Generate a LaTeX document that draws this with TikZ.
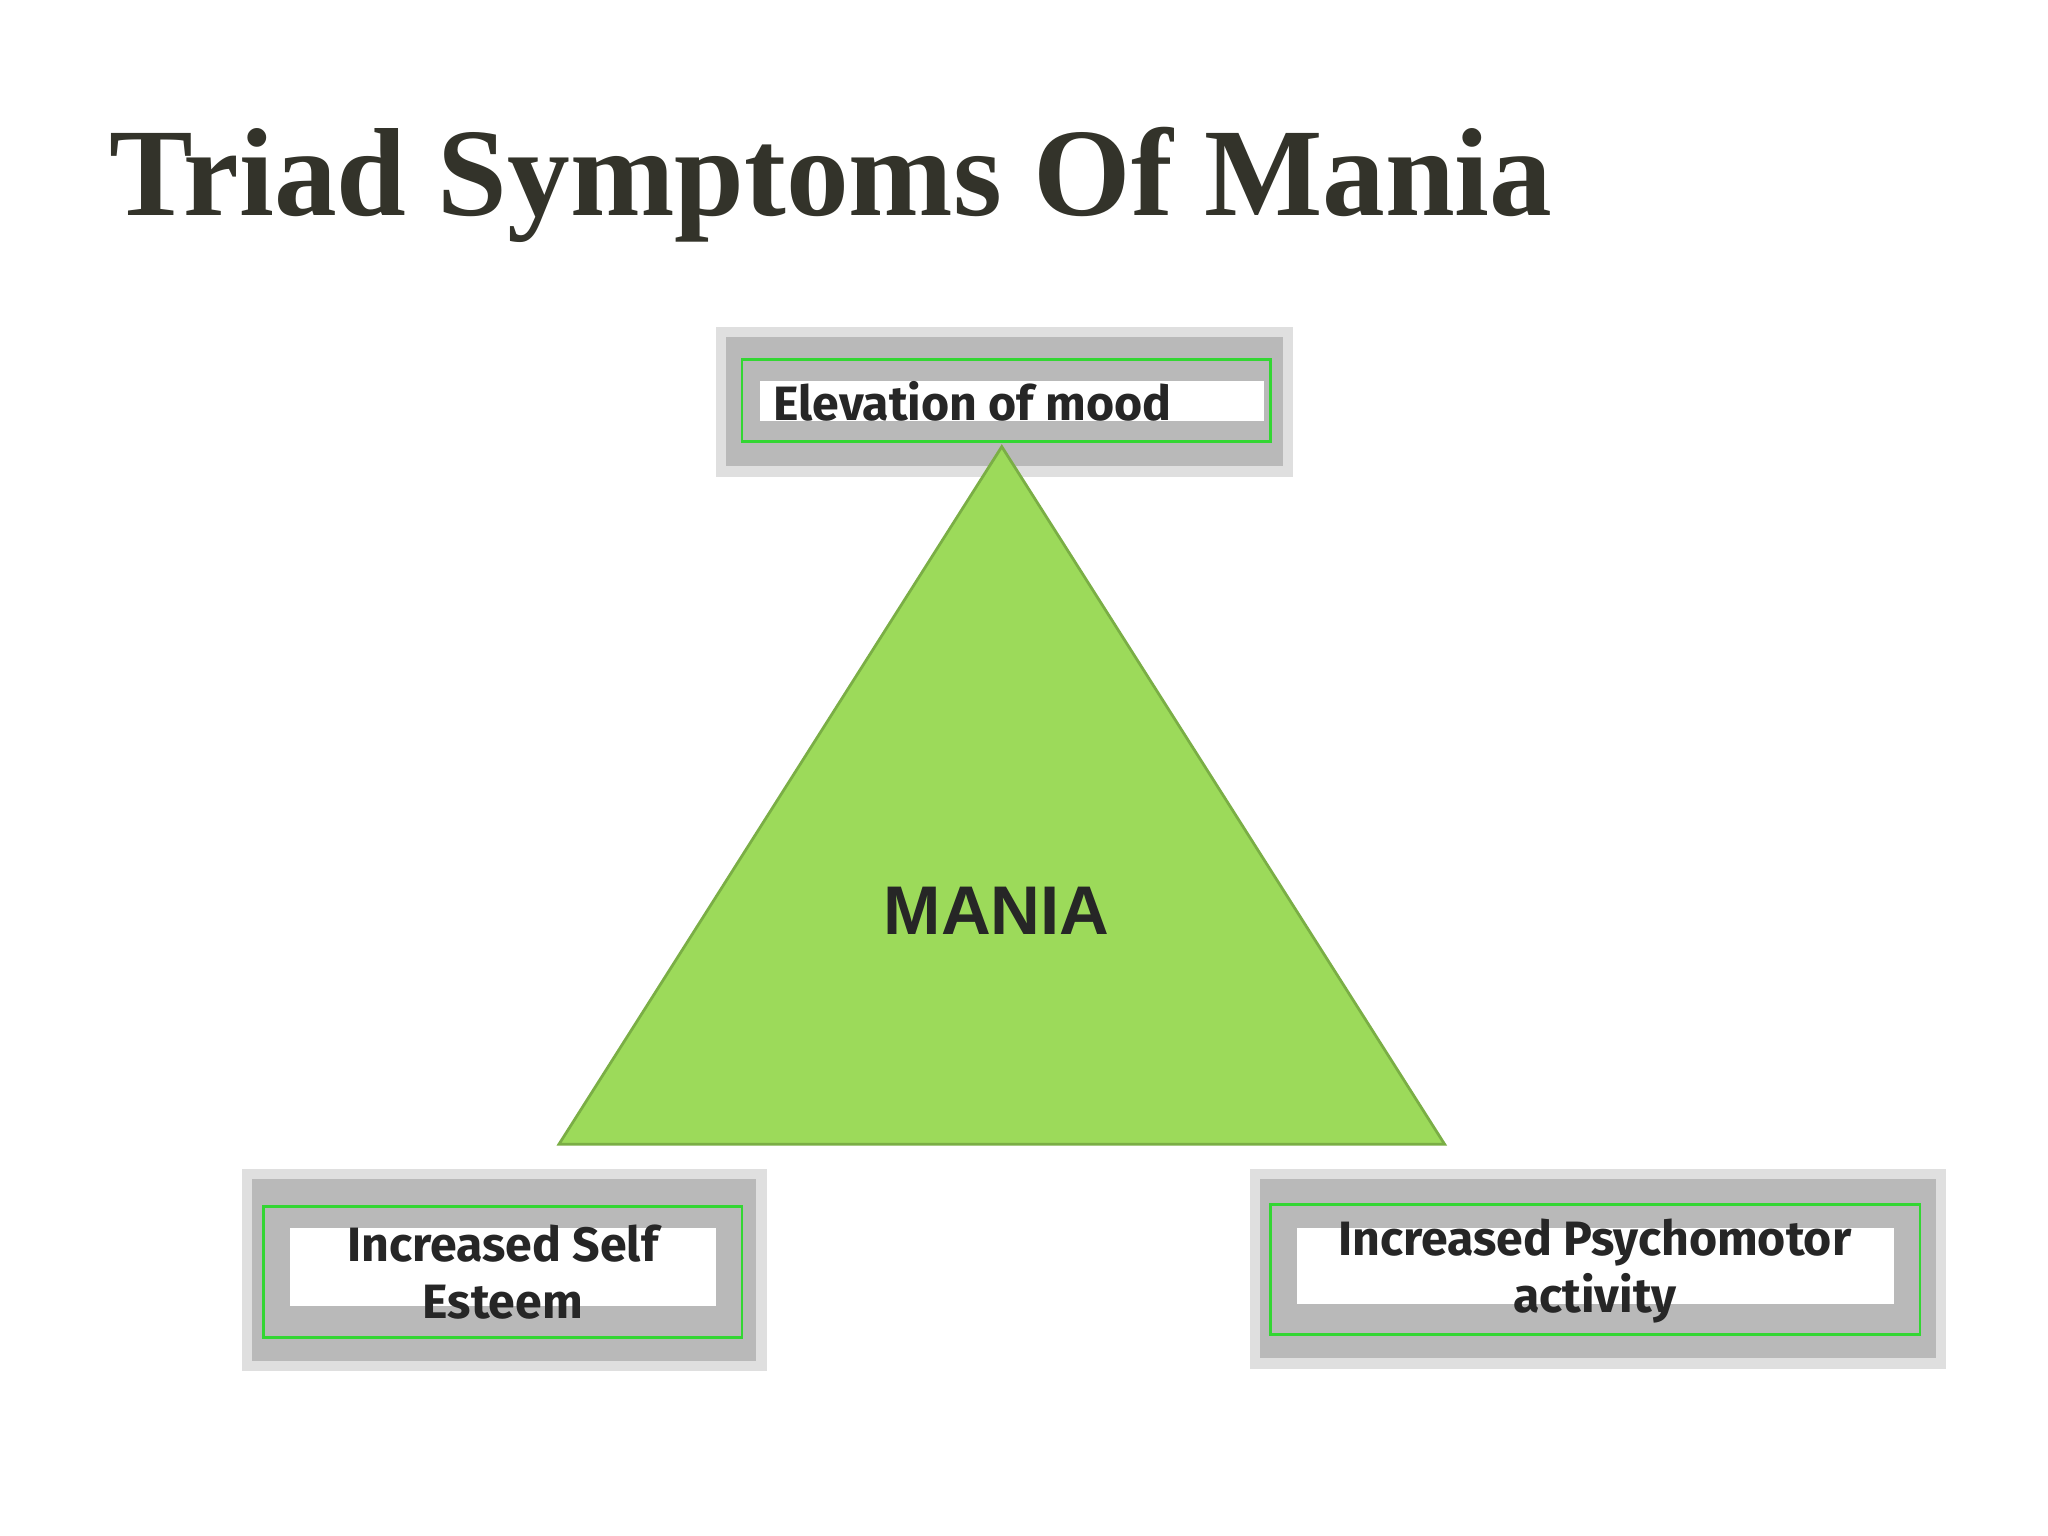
\documentclass[tikz,border=0pt]{standalone}
\usepackage{fontspec}
\setmainfont{Liberation Serif}
\newfontfamily\boxfont{Fira Sans}
\newfontfamily\manfont{Liberation Sans}
\definecolor{titlec}{HTML}{33332A}
\definecolor{trifill}{HTML}{9CDA5A}
\definecolor{triedge}{HTML}{7AAE45}
\definecolor{gbord}{HTML}{33D633}
\begin{document}
\begin{tikzpicture}[x=0.01cm,y=-0.01cm]
\useasboundingbox[fill=white] (0,0) rectangle (1568,1176);
\tikzset{
  framebox/.style={fill=gray!25},
  framemid/.style={fill=gray!55},
  framein/.style={fill=white},
  greenb/.style={draw=gbord,line width=0.6pt},
  lbl/.style={font=\boxfont\bfseries\fontsize{10.5}{12.5}\selectfont,text=black!85,align=center}
}
\node[anchor=base west,inner sep=0,text=titlec,font=\bfseries\fontsize{27.3}{31}\selectfont] (title) at (83,165) {Triad Symptoms Of Mania};
% top box
\fill[framebox] (548,250) rectangle (990,365);
\fill[framemid] (556,258) rectangle (982,357);
\fill[framein] (582,292) rectangle (968,322);
\draw[greenb] (568,275) rectangle (973,338);
\node[lbl,anchor=west] (top) at (580,307) {Elevation of mood};
% triangle
\draw[fill=trifill,draw=triedge,line width=0.6pt] (767,342) coordinate (apex) -- (1106,876) -- (428,876) -- cycle;
\node[font=\manfont\bfseries\fontsize{15}{17}\selectfont,text=black!85] (mania) at (763,697) {MANIA};
% bottom left
\fill[framebox] (185,895) rectangle (587,1050);
\fill[framemid] (193,903) rectangle (579,1042);
\fill[framein] (222,940) rectangle (548,1000);
\draw[greenb] (202,924) rectangle (568,1024);
\node[lbl] (bl) at (385,974) {Increased Self\\Esteem};
% bottom right
\fill[framebox] (957,895) rectangle (1490,1048);
\fill[framemid] (965,903) rectangle (1482,1040);
\fill[framein] (993,940) rectangle (1450,998);
\draw[greenb] (973,922) rectangle (1470,1022);
\node[lbl] (br) at (1221,973) {Increased Psychomotor\\activity};
\end{tikzpicture}
\end{document}
